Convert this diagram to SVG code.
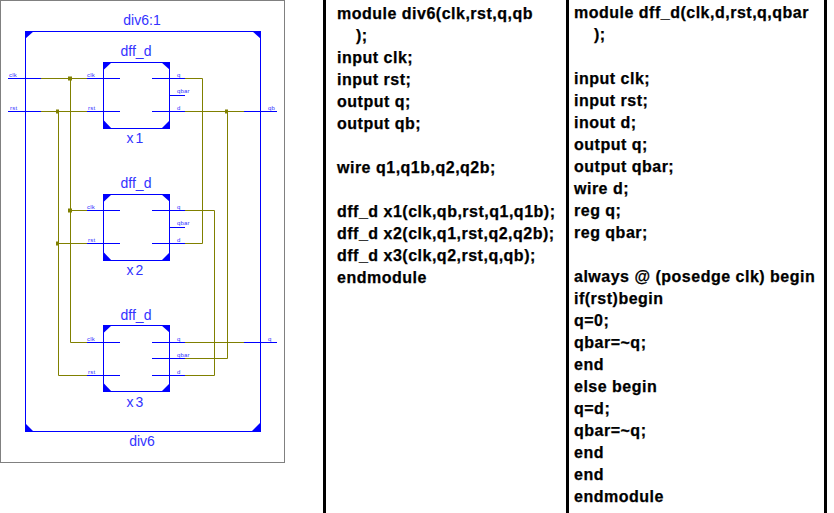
<svg xmlns="http://www.w3.org/2000/svg" width="834" height="513" viewBox="0 0 834 513">
<defs>
<g id="blockshape">
<rect x="103.500" y="0.500" width="66" height="66" class="b"/>
<polygon points="103.500,0 112,0 103.500,8" fill="#0000ff"/>
<polygon points="170,0 161,0 170,8" fill="#0000ff"/>
<polygon points="103.500,67 112,67 103.500,58" fill="#0000ff"/>
<polygon points="170,67 161,67 170,58" fill="#0000ff"/>
</g>
</defs>
<style>
.b{stroke:#0000ff;stroke-width:1;fill:none}
.o{stroke:#808000;stroke-width:1;fill:none}
.t{font:6px "Liberation Sans",Arial,sans-serif;fill:#3333ff;letter-spacing:.2px}
.l{font:14px "Liberation Sans",Arial,sans-serif;fill:#3333ff;text-anchor:middle}
.x{letter-spacing:2px}
.c{font:bold 16px "Liberation Sans",Arial,sans-serif;fill:#000;letter-spacing:.5px;stroke:#000;stroke-width:.25}
</style>
<rect width="834" height="513" fill="#fff"/>
<rect x="0.500" y="0.500" width="284" height="462" fill="#fff" stroke="#808080"/>
<g id="div6">
<rect x="25.500" y="31.500" width="235" height="400" class="b"/>
<polygon points="25,31 34,31 25,39" fill="#0000ff"/>
<polygon points="261,31 252,31 261,39" fill="#0000ff"/>
<polygon points="25,432 34,432 25,423" fill="#0000ff"/>
<polygon points="261,432 251,432 261,422" fill="#0000ff"/>
<text class="l" x="142" y="25">div6:1</text>
<text class="l" x="142" y="446">div6</text>
<path class="b" d="M8 78.500H41M8 111.500H41M244 111.500H277M244 342.500H277"/>
<text class="t" x="9" y="77">clk</text><text class="t" x="10" y="110">rst</text>
<text class="t" x="268" y="110">qb</text><text class="t" x="268" y="341">q</text>
</g>
<g id="x1"><use href="#blockshape" y="62"/><text class="l x" x="136" y="143">x1</text><text class="l" x="136" y="56">dff_d</text>
<path class="b" d="M87 78.500H120M87 111.500H120M152 78.500H185M152 111.500H185M169 95.500H185"/>
<text class="t" x="87" y="77">clk</text><text class="t" x="88" y="110">rst</text><text class="t" x="177" y="77">q</text><text class="t" x="177" y="93">qbar</text><text class="t" x="177" y="110">d</text></g>
<g id="x2"><use href="#blockshape" y="194"/><text class="l x" x="136" y="275">x2</text><text class="l" x="136" y="188">dff_d</text>
<path class="b" d="M87 210.500H120M87 243.500H120M152 210.500H185M152 243.500H185M169 227.500H185"/>
<text class="t" x="87" y="209">clk</text><text class="t" x="88" y="242">rst</text><text class="t" x="177" y="209">q</text><text class="t" x="177" y="225">qbar</text><text class="t" x="177" y="242">d</text></g>
<g id="x3"><use href="#blockshape" y="325"/><text class="l x" x="136" y="407">x3</text><text class="l" x="136" y="320">dff_d</text>
<path class="b" d="M87 342.500H120M87 375.500H120M152 342.500H185M152 375.500H185M152 358.500H185"/>
<text class="t" x="87" y="341">clk</text><text class="t" x="88" y="374">rst</text><text class="t" x="177" y="341">q</text><text class="t" x="177" y="357">qbar</text><text class="t" x="177" y="374">d</text></g>
<g id="connectors">
<path class="o" d="M41 78.500H87M70.500 78.500V342.500H87M70.500 210.500H87"/>
<path class="o" d="M41 111.500H87M58.500 111.500V375.500H87M58.500 243.500H87"/>
<path class="o" d="M185 78.500H202.500V243.500H185"/>
<path class="o" d="M185 111.500H244M227.500 111.500V358.500H185"/>
<path class="o" d="M185 210.500H214.500V375.500H185"/>
<path class="o" d="M185 342.500H244"/>
<g fill="#808000"><rect x="68" y="76.500" width="4" height="4"/><rect x="56" y="109.500" width="3" height="4"/><rect x="225" y="109.500" width="3" height="4"/><rect x="68" y="208.500" width="4" height="4"/><rect x="56" y="241.500" width="3" height="4"/></g>
</g>
<path d="M324.500 0V513M567.500 0V513M825.500 0V513" stroke="#000" stroke-width="3" fill="none"/>
<g id="code1">
<text class="c" x="337" y="19">module div6(clk,rst,q,qb</text>
<text class="c" x="356" y="41">);</text>
<text class="c" x="337" y="63">input clk;</text>
<text class="c" x="337" y="85">input rst;</text>
<text class="c" x="337" y="107">output q;</text>
<text class="c" x="337" y="129">output qb;</text>
<text class="c" x="337" y="173">wire q1,q1b,q2,q2b;</text>
<text class="c" x="337" y="217">dff_d x1(clk,qb,rst,q1,q1b);</text>
<text class="c" x="337" y="239">dff_d x2(clk,q1,rst,q2,q2b);</text>
<text class="c" x="337" y="261">dff_d x3(clk,q2,rst,q,qb);</text>
<text class="c" x="337" y="283">endmodule</text>
</g>
<g id="code2">
<text class="c" x="574" y="18">module dff_d(clk,d,rst,q,qbar</text>
<text class="c" x="594" y="40">);</text>
<text class="c" x="574" y="84">input clk;</text>
<text class="c" x="574" y="106">input rst;</text>
<text class="c" x="574" y="128">inout d;</text>
<text class="c" x="574" y="150">output q;</text>
<text class="c" x="574" y="172">output qbar;</text>
<text class="c" x="574" y="194">wire d;</text>
<text class="c" x="574" y="216">reg q;</text>
<text class="c" x="574" y="238">reg qbar;</text>
<text class="c" x="574" y="282">always @ (posedge clk) begin</text>
<text class="c" x="574" y="304">if(rst)begin</text>
<text class="c" x="574" y="326">q=0;</text>
<text class="c" x="574" y="348">qbar=~q;</text>
<text class="c" x="574" y="370">end</text>
<text class="c" x="574" y="392">else begin</text>
<text class="c" x="574" y="414">q=d;</text>
<text class="c" x="574" y="436">qbar=~q;</text>
<text class="c" x="574" y="458">end</text>
<text class="c" x="574" y="480">end</text>
<text class="c" x="574" y="502">endmodule</text>
</g>
</svg>
